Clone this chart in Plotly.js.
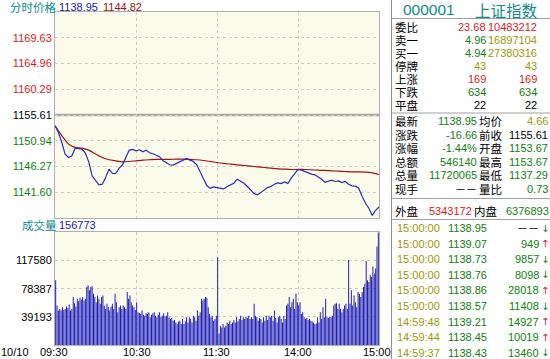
<!DOCTYPE html>
<html><head><meta charset="utf-8">
<script src="https://cdn.plot.ly/plotly-3.0.1.min.js"></script>
<style>html,body{margin:0;padding:0;background:#fff;overflow:hidden}#chart{width:550px;height:359px}</style>
</head><body><div id="chart"></div>
<script>
// ---------- data ----------
const priceValues = [1153.67,1152.46,1150.64,1148.52,1147.91,1148.21,1149.61,1149.55,1149.43,1148.70,
1147.12,1144.58,1143.85,1142.94,1143.06,1144.27,1145.79,1145.00,1145.00,1145.97,
1146.58,1147.91,1149.24,1149.36,1149.12,1149.30,1148.94,1149.24,1148.76,1148.58,
1148.33,1148.03,1147.30,1146.88,1146.58,1146.52,1146.82,1147.12,1147.49,1147.73,
1147.42,1147.18,1146.58,1145.36,1143.97,1142.76,1142.33,1142.58,1142.45,1142.39,
1142.21,1142.64,1142.94,1143.24,1143.97,1143.67,1143.24,1142.64,1142.03,1141.36,
1141.12,1141.61,1141.97,1142.45,1142.64,1143.06,1143.30,1143.18,1143.48,1143.18,
1144.15,1145.06,1145.73,1145.61,1145.36,1145.18,1144.88,1144.76,1144.39,1143.97,
1143.42,1143.67,1143.79,1143.55,1143.67,1143.36,1143.55,1143.06,1142.76,1142.70,
1142.33,1140.82,1139.61,1138.70,1137.40,1138.33,1138.95];
const avgValues = [1153.67,1151.85,1150.33,1149.73,1149.61,1149.24,1148.52,1147.91,1147.49,1147.30,
1147.12,1147.18,1147.30,1147.42,1147.49,1147.55,1147.55,1147.55,1147.61,1147.61,
1147.55,1147.49,1147.36,1147.18,1147.00,1146.82,1146.70,1146.58,1146.45,1146.33,
1146.21,1146.09,1145.97,1145.85,1145.79,1145.73,1145.73,1145.73,1145.67,1145.61,
1145.55,1145.49,1145.42,1145.36,1145.30,1145.30,1145.24,1145.12,1144.82];
const volumeValues = [
90240,55000,47940,50300,47940,52640,48880,50300,53580,51700,
56400,47940,50300,66740,58280,53580,64390,61100,65800,62980,
66740,62040,64390,80840,83190,76140,80840,81780,71440,66740,
59690,69090,64390,57340,66740,69090,55000,50300,57340,52640,
47940,53580,57340,50300,71440,59690,45590,52640,55000,50300,
55000,52640,50300,73790,64390,69090,59690,55000,52640,48880,
59690,45590,44180,43240,47940,42300,40890,44180,43240,45590,
38540,42300,44180,45590,40890,38540,42300,45590,39480,40890,
44180,39480,40890,45590,38540,36190,37600,33840,34780,31490,
29140,32900,33840,29140,36190,29140,32900,38540,31490,38540,
36190,31490,40890,38540,33840,47940,40890,45590,64390,62040,
64390,66740,65800,52640,43240,38540,40890,33840,36190,40890,
122200,15980,26790,24440,29140,24440,26790,31490,29140,33840,
29140,31490,34780,31490,38540,32900,36190,40890,34780,38540,
36190,39480,37600,40890,36190,38540,36190,57340,40890,38540,
33840,37600,36190,31490,38540,33840,40890,34780,40890,38540,
40890,33840,47940,37600,31490,38540,40890,36190,31490,40890,
36190,55000,57340,66740,52640,59690,64390,50300,71440,59690,
55000,59690,43240,45590,38540,36190,37600,34780,36190,33840,
32900,31490,29140,30080,38540,31490,45590,36190,52640,38540,
64390,38540,37600,39480,38540,40890,55000,57340,58280,50300,
57340,50300,45590,50300,55000,57340,50300,118440,57340,76140,
55000,69090,59690,52640,73790,71440,66740,73790,80840,85540,
117100,90240,87890,97290,94940,109040,99640,106690,137240,156773];
const priceMinutes = priceValues.map((_, i) => i * 2.5);
const avgMinutes = avgValues.map((_, i) => i * 5);
const volumeMinutes = volumeValues.map((_, i) => i + 0.5);

const priceTicks = [1141.60, 1146.27, 1150.94, 1155.61, 1160.29, 1164.96, 1169.63];
const prevClose = 1155.61;
const volumeTicks = [39193, 78387, 117580];
const volumeMax = 156773;
const timeTickMinutes = [0, 60, 120, 180, 240];
const timeTickLabels = ['09:30', '10:30', '11:30', '14:00', '15:00'];
const dateLabel = '10/10';

const sect1Labels = ['委比','卖一','买一','停牌','上涨','下跌','平盘'];
const sect1ValA = ['23.68','4.96','4.94','43','169','634','22'];
const sect1ValB = ['10483212','16897104','27380316','43','169','634','22'];
const sect1ColA = ['red','green','green','olive','red','green','black'];
const sect1ColB = ['red','olive','olive','olive','red','green','black'];

const sect2LabelsA = ['最新','涨跌','涨幅','总额','总量','现手'];
const sect2ValA = ['1138.95','-16.66','-1.44%','546140','11720065','－－'];
const sect2ColA = ['green','green','green','green','green','black'];
const sect2LabelsB = ['均价','前收','开盘','最高','最低','量比'];
const sect2ValB = ['4.66','1155.61','1153.67','1153.67','1137.29','0.73'];
const sect2ColB = ['olive','black','green','green','green','green'];

const tickTimes = ['15:00:00','15:00:00','15:00:00','15:00:00','15:00:00','15:00:00','14:59:48','14:59:44','14:59:37'];
const tickPrices = ['1138.95','1139.07','1138.73','1138.76','1138.86','1138.57','1139.21','1138.45','1138.43'];
const tickVols = ['－－','949','9857','8098','28018','11408','14927','10019','13460'];
const tickDirs = ['down','up','down','down','up','down','up','up','down'];

// ---------- styling ----------
const C = {red:'#e01818', green:'#108010', olive:'#9a9a08', black:'#000000', teal:'#108a8a',
           blue:'#2828c8', darkred:'#a01010', grid:'#cfcfc0', frame:'#b0b0b0', bg:'#fbfbec'};
const CJK = 'Noto Sans CJK SC';
const NUM = 'Liberation Sans';
const W = 550, H = 359, L = 55, R = 171, T = 12, B = 14;
const pw = W - L - R, ph = H - T - B;
const ax = px => (px - L) / pw;
const ay = py => (H - B - py) / ph;

const ann = [];
function txt(px, py, text, color, family, size, anchor) {
  ann.push({xref:'paper', yref:'paper', x:ax(px), y:ay(py), text:text, showarrow:false,
    xanchor:anchor || 'left', yanchor:'middle', borderpad:0,
    font:{family:family, size:size, color:C[color] || color}});
}
// panel titles
txt(9, 6.5, '分时价格', 'teal', CJK, 11.5);
txt(58, 6.5, '1138.95', '#2020a0', NUM, 11);
txt(102, 6.5, '1144.82', 'darkred', NUM, 11);
txt(21, 225, '成交量', 'teal', CJK, 11.5);
txt(58, 225, '156773', '#2020a0', NUM, 11);

// time axis labels (drawn as text so they stay inside the picture)
txt(0, 352, dateLabel, 'black', NUM, 11);
const timeLabelX = [54, 137, 216.5, 297.5, 376.5];
timeTickLabels.forEach((t, i) => txt(timeLabelX[i], 352, t, 'black', NUM, 11, 'center'));

// right panel
txt(402, 10, '000001', 'teal', NUM, 15.5);
txt(474, 10, '上证指数', 'teal', CJK, 15.5);
sect1Labels.forEach((lab, i) => {
  const y = 27 + 13 * i;
  txt(394, y, lab, 'black', CJK, 11.5);
  txt(487, y, sect1ValA[i], sect1ColA[i], NUM, 11, 'right');
  txt(538, y, sect1ValB[i], sect1ColB[i], NUM, 11, 'right');
});
sect2LabelsA.forEach((lab, i) => {
  const y = 121 + 13.6 * i;
  txt(394, y, lab, 'black', CJK, 11.5);
  const v = sect2ValA[i];
  txt(478, y, v, sect2ColA[i], v.indexOf('－') >= 0 ? CJK : NUM, 11, 'right');
  txt(478, y, sect2LabelsB[i], 'black', CJK, 11.5);
  txt(549, y, sect2ValB[i], sect2ColB[i], NUM, 11, 'right');
});
txt(394, 210.5, '外盘', 'black', CJK, 11.5);
txt(473, 210.5, '5343172', 'red', NUM, 11, 'right');
txt(473, 210.5, '内盘', 'black', CJK, 11.5);
txt(549.5, 210.5, '6376893', 'green', NUM, 11, 'right');
tickTimes.forEach((t, i) => {
  const y = 228 + 15.6 * i;
  txt(396, y, t, 'olive', NUM, 11);
  txt(447, y, tickPrices[i], 'green', NUM, 11);
  const v = tickVols[i];
  const dash = v.indexOf('－') >= 0;
  txt(540, y, v, dash ? 'black' : 'green', dash ? CJK : NUM, 11, 'right');
  txt(540, y, tickDirs[i] === 'up' ? '↑' : '↓', tickDirs[i] === 'up' ? 'red' : 'green', 'DejaVu Sans', 10);
});

const shapes = [];
function pline(x0, y0, x1, y1, color, width) {
  shapes.push({type:'line', xref:'paper', yref:'paper', x0:ax(x0), y0:ay(y0), x1:ax(x1), y1:ay(y1),
    line:{color:color, width:width || 1}});
}
pline(391.5, 0, 391.5, 359, '#909090', 1);
pline(391.5, 18.5, 550, 18.5, '#a0a0a0', 1);
pline(391.5, 113, 550, 113, '#a0a0a0', 1);
pline(391.5, 198.5, 550, 198.5, '#a0a0a0', 1);
pline(391.5, 219.5, 550, 219.5, '#a0a0a0', 1);
shapes.push({type:'line', xref:'x2', yref:'y2', x0:0, x1:240, y0:prevClose, y1:prevClose,
  line:{color:'#a8a8a8', width:2.5}, layer:'below'});

function tickColor(v) { return v > prevClose ? C.red : (v < prevClose ? C.green : C.black); }

const gridCommon = {showgrid:true, gridcolor:C.grid, griddash:'dot', gridwidth:1, zeroline:false,
  showline:true, linecolor:C.frame, linewidth:1, mirror:true, ticks:'', fixedrange:true};

const layout = {
  width:W, height:H, margin:{l:L, r:R, t:T, b:B, pad:0},
  paper_bgcolor:'#ffffff', plot_bgcolor:C.bg, showlegend:false, hovermode:false,
  bargap:0.3,
  xaxis: Object.assign({}, gridCommon, {anchor:'y', domain:[0,1], range:[0,240],
    tickmode:'array', tickvals:timeTickMinutes, showticklabels:false}),
  xaxis2: Object.assign({}, gridCommon, {anchor:'y2', domain:[0,1], range:[0,240],
    tickmode:'array', tickvals:timeTickMinutes, showticklabels:false}),
  yaxis: Object.assign({}, gridCommon, {anchor:'x', domain:[0, ay(232)], range:[0, 157500],
    tickmode:'array', tickvals:volumeTicks, ticktext:volumeTicks.map(String),
    tickfont:{family:NUM, size:11, color:'#000'}}),
  yaxis2: Object.assign({}, gridCommon, {anchor:'x2', domain:[ay(218), 1], range:[1136.93, 1174.29],
    tickmode:'array', tickvals:priceTicks,
    ticktext:priceTicks.map(v => '<span style="color:' + tickColor(v) + '">' + v.toFixed(2) + '</span>'),
    tickfont:{family:NUM, size:11, color:'#000'}}),
  annotations: ann,
  shapes: shapes
};

const traces = [
  {type:'bar', x:volumeMinutes, y:volumeValues, xaxis:'x', yaxis:'y',
   marker:{color:'#1414b8', line:{width:0}}},
  {type:'scatter', mode:'lines', x:avgMinutes, y:avgValues, xaxis:'x2', yaxis:'y2',
   line:{color:C.darkred, width:1.2, shape:'spline', smoothing:0.6}},
  {type:'scatter', mode:'lines', x:priceMinutes, y:priceValues, xaxis:'x2', yaxis:'y2',
   line:{color:C.blue, width:1.2}}
];

Plotly.newPlot('chart', traces, layout, {staticPlot:true, displayModeBar:false});
</script>
</body></html>
